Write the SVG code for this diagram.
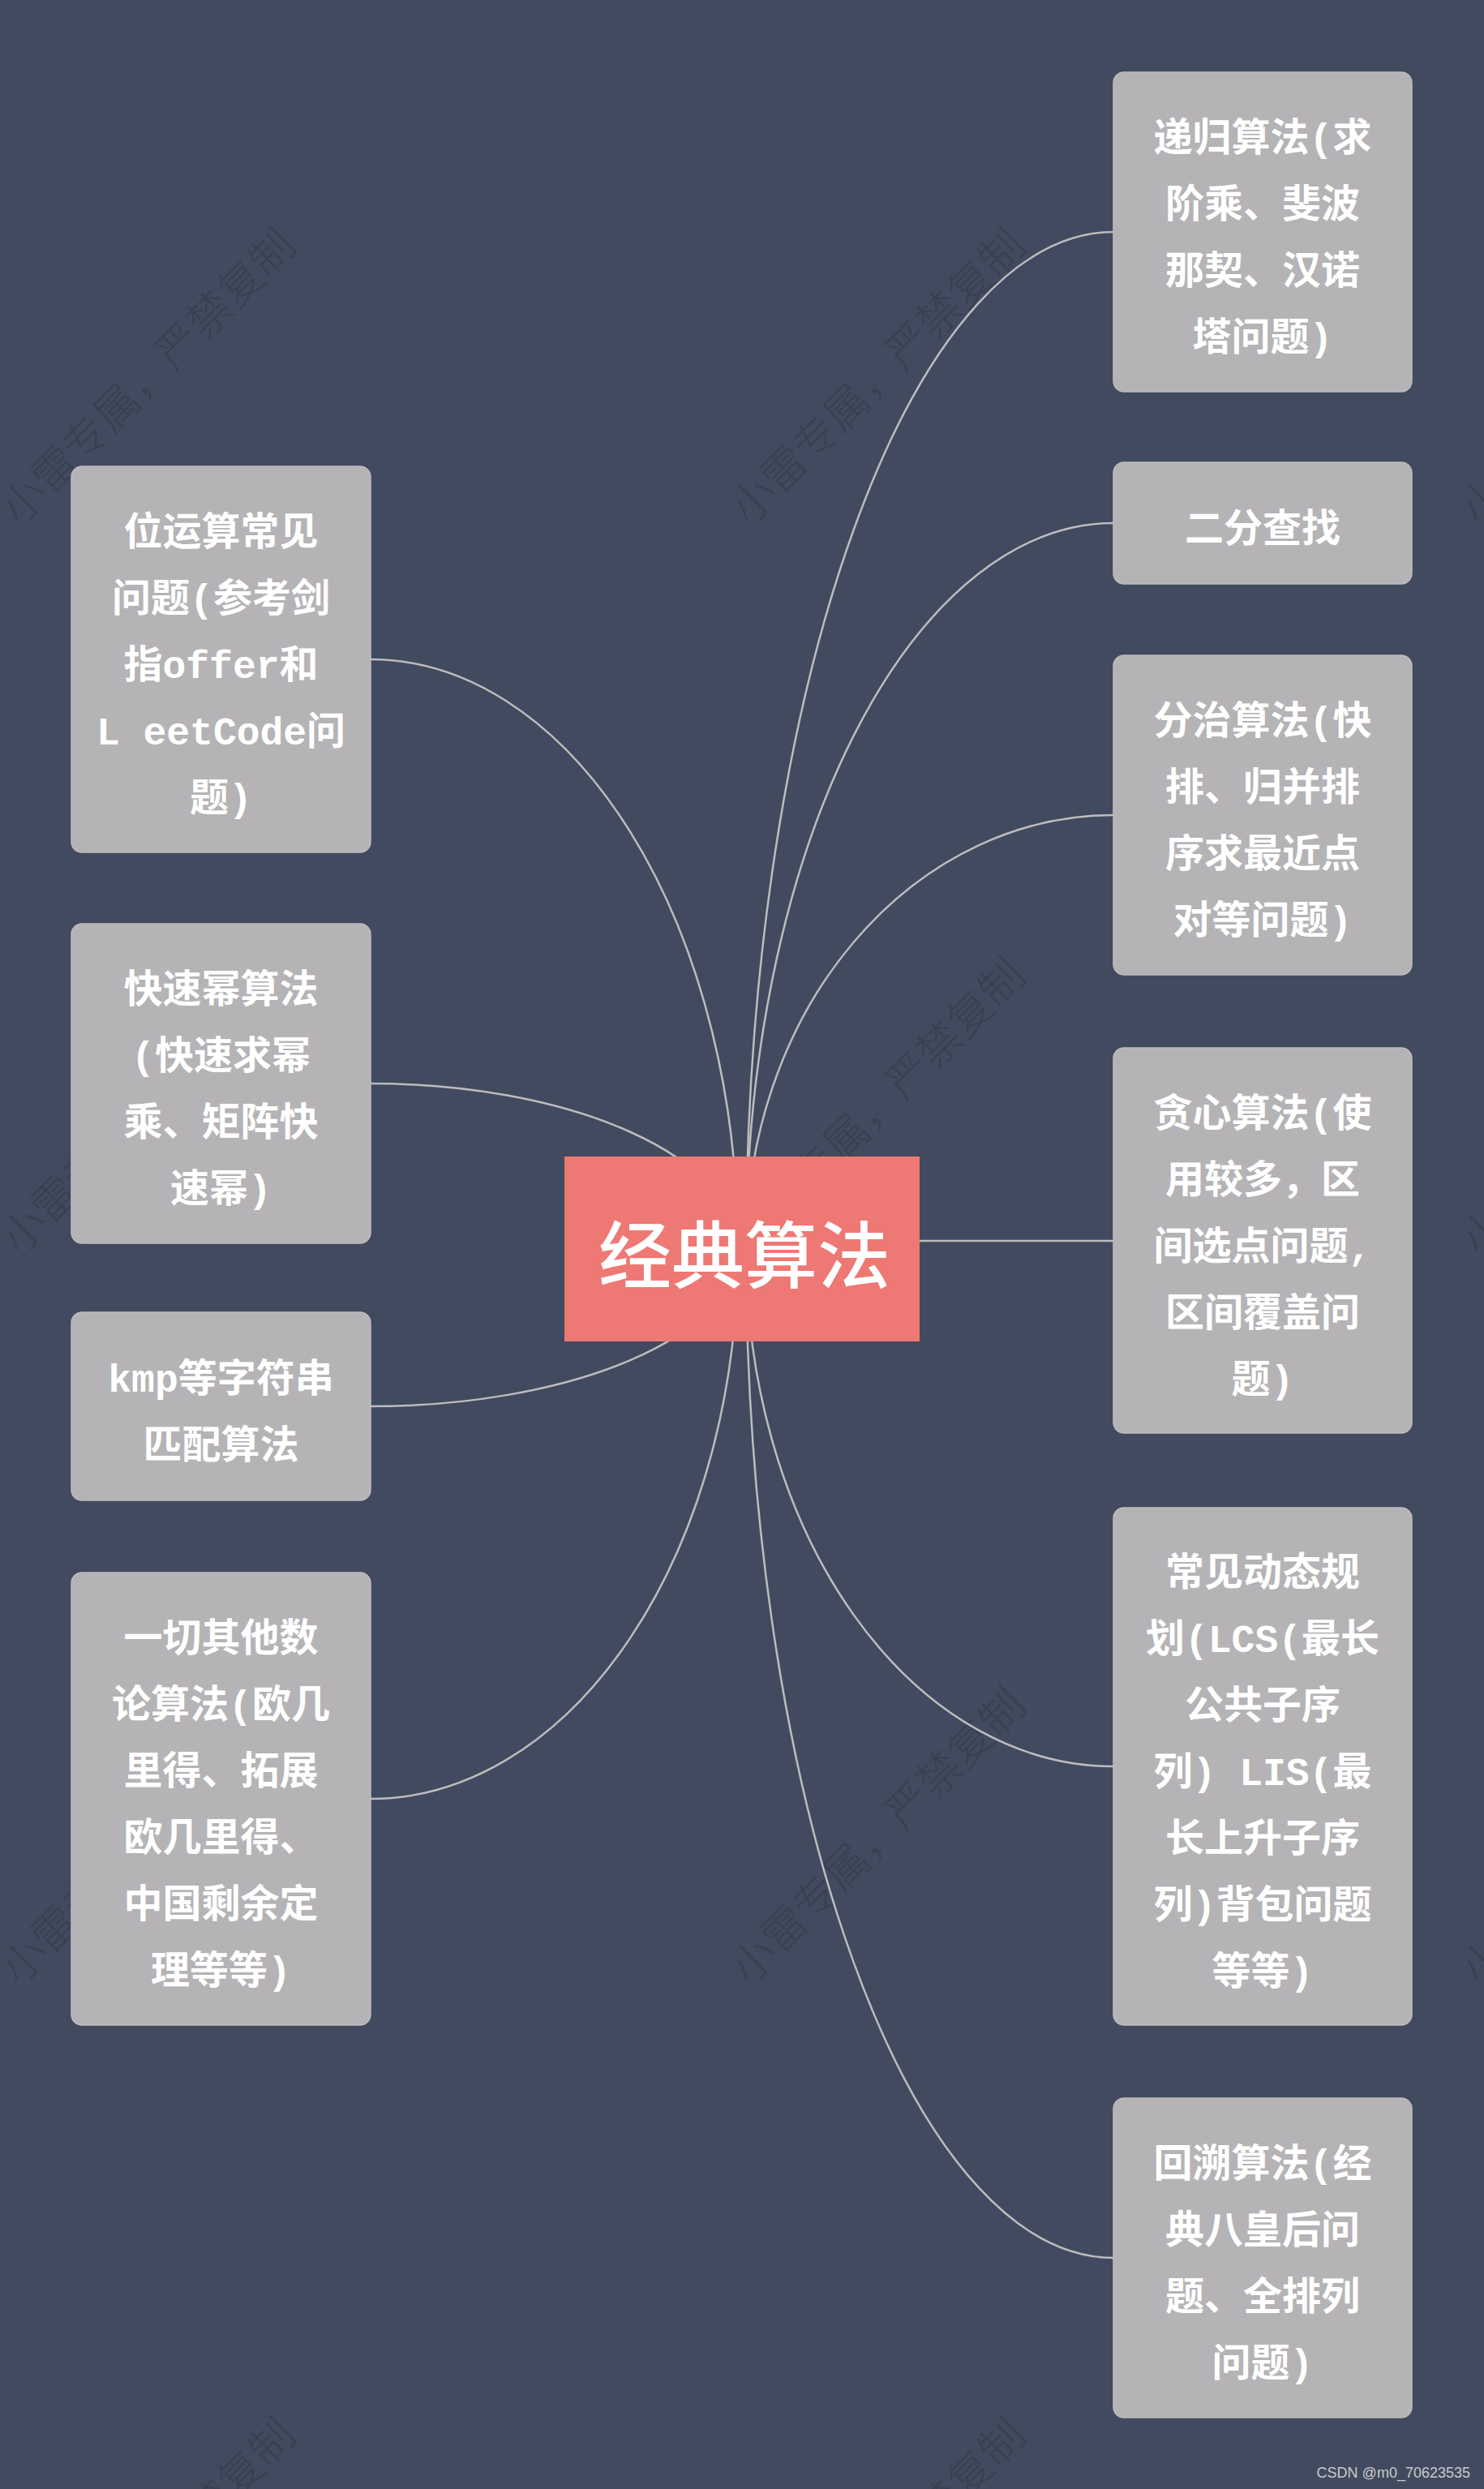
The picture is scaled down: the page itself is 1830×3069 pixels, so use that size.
<svg xmlns="http://www.w3.org/2000/svg" width="1830" height="3069" viewBox="0 0 1830 3069">
<style>
.bg{fill:#414A5E}
.wm{font-family:"Noto Sans CJK SC","Noto Sans",sans-serif;font-size:54px;font-weight:300;fill:#000;fill-opacity:0.13}
.node rect{fill:#B5B3B6;stroke:#BEBCBF;stroke-width:1.5}
.node text{font-family:"Liberation Mono","Noto Sans CJK SC",monospace;font-size:48px;font-weight:bold;fill:#FFFFFF;text-anchor:middle}
.conn path{fill:none;stroke:#BDBCBE;stroke-width:2.5}
.root rect{fill:#EE7873}
.root text{font-family:"Noto Sans CJK SC",sans-serif;font-size:90px;font-weight:500;fill:#FFFFFF;text-anchor:middle}
.credit{font-family:"Liberation Sans",Arial,sans-serif;font-size:18px;fill:#C9CACE;text-anchor:end}
</style>
<rect class="bg" x="0" y="0" width="1830" height="3069"/>
<g id="watermarks">
<text class="wm" text-anchor="middle" transform="translate(183,465) rotate(-45)" y="18">小雷专属，严禁复制</text>
<text class="wm" text-anchor="middle" transform="translate(1083,465) rotate(-45)" y="18">小雷专属，严禁复制</text>
<text class="wm" text-anchor="middle" transform="translate(1983,465) rotate(-45)" y="18">小雷专属，严禁复制</text>
<text class="wm" text-anchor="middle" transform="translate(183,1365) rotate(-45)" y="18">小雷专属，严禁复制</text>
<text class="wm" text-anchor="middle" transform="translate(1083,1365) rotate(-45)" y="18">小雷专属，严禁复制</text>
<text class="wm" text-anchor="middle" transform="translate(1983,1365) rotate(-45)" y="18">小雷专属，严禁复制</text>
<text class="wm" text-anchor="middle" transform="translate(183,2265) rotate(-45)" y="18">小雷专属，严禁复制</text>
<text class="wm" text-anchor="middle" transform="translate(1083,2265) rotate(-45)" y="18">小雷专属，严禁复制</text>
<text class="wm" text-anchor="middle" transform="translate(1983,2265) rotate(-45)" y="18">小雷专属，严禁复制</text>
<text class="wm" text-anchor="middle" transform="translate(183,3165) rotate(-45)" y="18">小雷专属，严禁复制</text>
<text class="wm" text-anchor="middle" transform="translate(1083,3165) rotate(-45)" y="18">小雷专属，严禁复制</text>
<text class="wm" text-anchor="middle" transform="translate(1983,3165) rotate(-45)" y="18">小雷专属，严禁复制</text>
</g>
<g id="connectors" class="conn">
<path d="M920,1540 A453,1254 0 0 1 1373,286"/>
<path d="M920,1540 A453,895 0 0 1 1373,645"/>
<path d="M920,1540 A453,535 0 0 1 1373,1005"/>
<path d="M1134,1530 L1373,1530"/>
<path d="M920,1540 A453,638 0 0 0 1373,2178"/>
<path d="M920,1540 A453,1244 0 0 0 1373,2784"/>
<path d="M910,1540 A453,727 0 0 0 457,813"/>
<path d="M910,1540 A453,204 0 0 0 457,1336"/>
<path d="M910,1540 A453,194 0 0 1 457,1734"/>
<path d="M910,1540 A453,678 0 0 1 457,2218"/>
</g>
<g id="root" class="root">
<rect x="696" y="1426" width="438" height="228"/>
<text x="918" y="1581">经典算法</text>
</g>
<g id="n-recursion" class="node">
<rect x="1373" y="89" width="368" height="394" rx="13"/>
<text x="1557" y="186">递归算法(求</text>
<text x="1557" y="268">阶乘、斐波</text>
<text x="1557" y="350">那契、汉诺</text>
<text x="1557" y="432">塔问题)</text>
</g>
<g id="n-binary" class="node">
<rect x="1373" y="570" width="368" height="150" rx="13"/>
<text x="1557" y="668">二分查找</text>
</g>
<g id="n-divide" class="node">
<rect x="1373" y="808" width="368" height="394" rx="13"/>
<text x="1557" y="905">分治算法(快</text>
<text x="1557" y="987">排、归并排</text>
<text x="1557" y="1069">序求最近点</text>
<text x="1557" y="1151">对等问题)</text>
</g>
<g id="n-greedy" class="node">
<rect x="1373" y="1292" width="368" height="475" rx="13"/>
<text x="1557" y="1389">贪心算法(使</text>
<text x="1557" y="1471">用较多，区</text>
<text x="1557" y="1553">间选点问题,</text>
<text x="1557" y="1635">区间覆盖问</text>
<text x="1557" y="1717">题)</text>
</g>
<g id="n-dp" class="node">
<rect x="1373" y="1859" width="368" height="638" rx="13"/>
<text x="1557" y="1955">常见动态规</text>
<text x="1557" y="2037">划(LCS(最长</text>
<text x="1557" y="2119">公共子序</text>
<text x="1557" y="2201">列) LIS(最</text>
<text x="1557" y="2283">长上升子序</text>
<text x="1557" y="2365">列)背包问题</text>
<text x="1557" y="2447">等等)</text>
</g>
<g id="n-backtrack" class="node">
<rect x="1373" y="2587" width="368" height="394" rx="13"/>
<text x="1557" y="2684">回溯算法(经</text>
<text x="1557" y="2766">典八皇后问</text>
<text x="1557" y="2848">题、全排列</text>
<text x="1557" y="2930">问题)</text>
</g>
<g id="n-bit" class="node">
<rect x="88" y="575" width="369" height="476" rx="13"/>
<text x="272.5" y="672">位运算常见</text>
<text x="272.5" y="754">问题(参考剑</text>
<text x="272.5" y="836">指offer和</text>
<text x="272.5" y="918">L eetCode问</text>
<text x="272.5" y="1000">题)</text>
</g>
<g id="n-fastpow" class="node">
<rect x="88" y="1139" width="369" height="394" rx="13"/>
<text x="272.5" y="1236">快速幂算法</text>
<text x="272.5" y="1318">(快速求幂</text>
<text x="272.5" y="1400">乘、矩阵快</text>
<text x="272.5" y="1482">速幂)</text>
</g>
<g id="n-kmp" class="node">
<rect x="88" y="1618" width="369" height="232" rx="13"/>
<text x="272.5" y="1716">kmp等字符串</text>
<text x="272.5" y="1798">匹配算法</text>
</g>
<g id="n-number" class="node">
<rect x="88" y="1939" width="369" height="558" rx="13"/>
<text x="272.5" y="2036">一切其他数</text>
<text x="272.5" y="2118">论算法(欧几</text>
<text x="272.5" y="2200">里得、拓展</text>
<text x="272.5" y="2282">欧几里得、</text>
<text x="272.5" y="2364">中国剩余定</text>
<text x="272.5" y="2446">理等等)</text>
</g>
<text class="credit" x="1813" y="3055">CSDN @m0_70623535</text>
</svg>
